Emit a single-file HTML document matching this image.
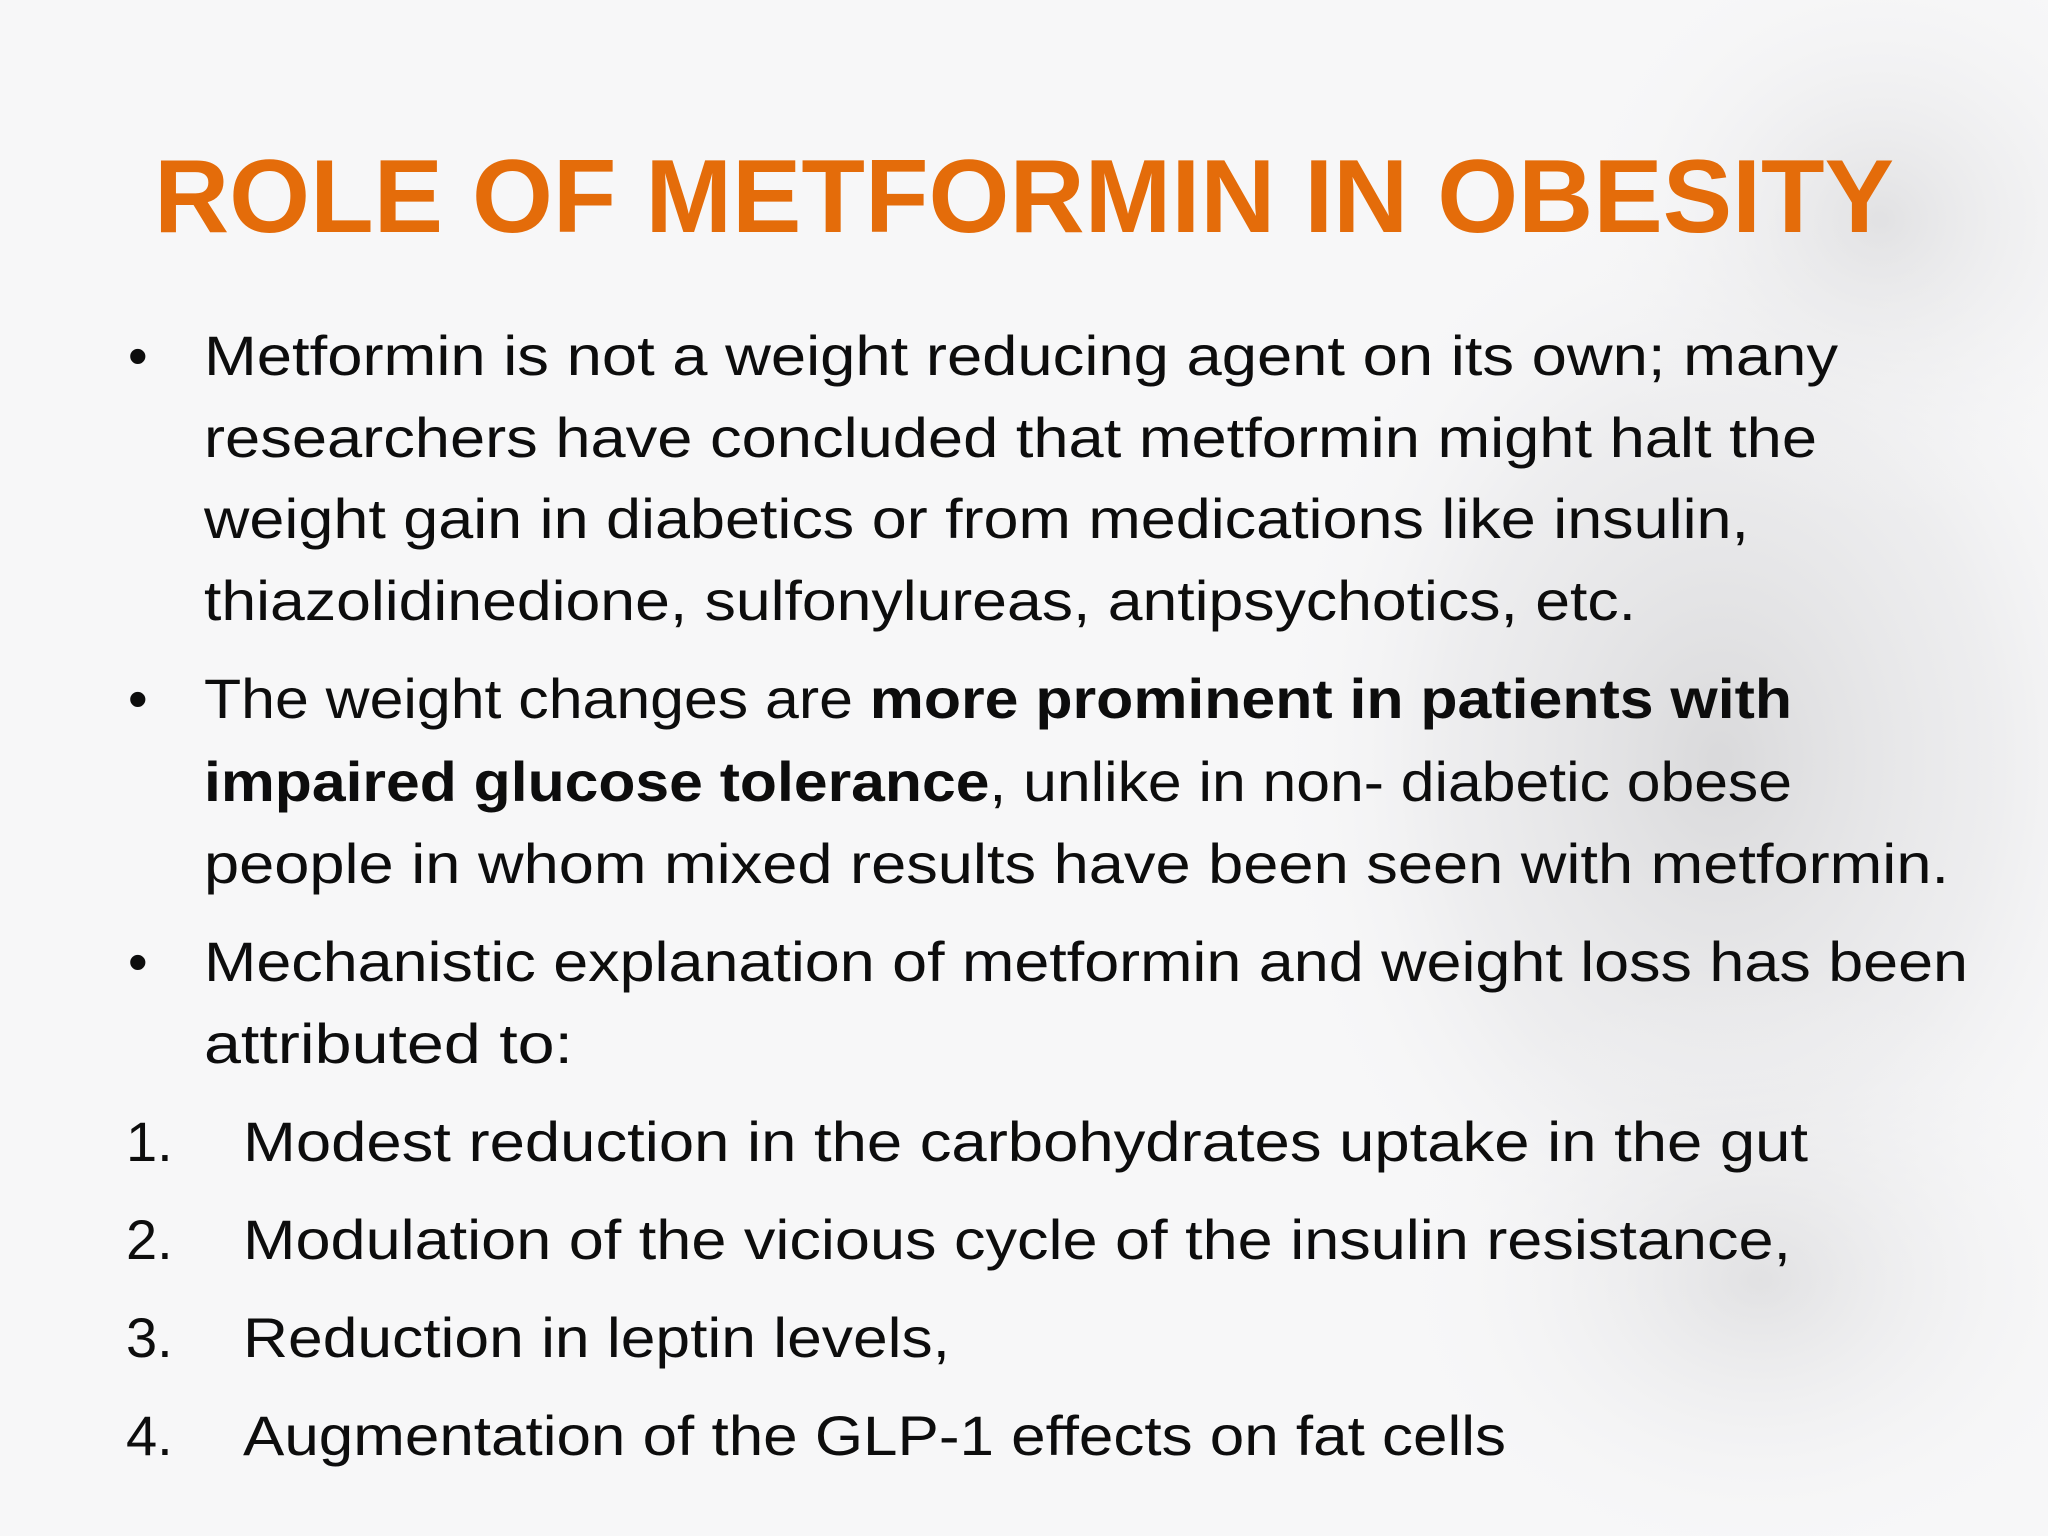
<!DOCTYPE html>
<html><head><meta charset="utf-8"><style>
html,body{margin:0;padding:0;width:2048px;height:1536px;overflow:hidden;background:#f7f7f8}
svg{display:block}
text{font-family:"Liberation Sans",sans-serif;fill:#0d0d0d;font-size:56px}
</style></head><body>
<svg width="2048" height="1536" viewBox="0 0 2048 1536">
<defs>
<radialGradient id="g1" cx="0.5" cy="0.5" r="0.5"><stop offset="0" stop-color="#d2d2d4" stop-opacity="0.8"/><stop offset="0.6" stop-color="#e4e4e6" stop-opacity="0.5"/><stop offset="1" stop-color="#f7f7f8" stop-opacity="0"/></radialGradient>
<radialGradient id="g2" cx="0.5" cy="0.5" r="0.5"><stop offset="0" stop-color="#dcdcde" stop-opacity="0.8"/><stop offset="1" stop-color="#f7f7f8" stop-opacity="0"/></radialGradient>
</defs>
<rect width="2048" height="1536" fill="#f7f7f8"/>
<ellipse cx="1720" cy="760" rx="460" ry="600" fill="url(#g1)"/>
<ellipse cx="1880" cy="220" rx="320" ry="300" fill="url(#g2)"/>
<ellipse cx="1760" cy="1280" rx="380" ry="300" fill="url(#g2)"/>
<text x="154" y="232" textLength="1740" lengthAdjust="spacingAndGlyphs" style="font-size:104px;font-weight:bold;fill:#e46c0a">ROLE OF METFORMIN IN OBESITY</text>

<g>
<text x="128" y="375">•</text>
<text x="204" y="375" textLength="1634" lengthAdjust="spacingAndGlyphs">Metformin is not a weight reducing agent on its own; many</text>
<text x="204" y="457" textLength="1613" lengthAdjust="spacingAndGlyphs">researchers have concluded that metformin might halt the</text>
<text x="204" y="538" textLength="1545" lengthAdjust="spacingAndGlyphs">weight gain in diabetics or from medications like insulin,</text>
<text x="204" y="620" textLength="1432" lengthAdjust="spacingAndGlyphs">thiazolidinedione, sulfonylureas, antipsychotics, etc.</text>

<text x="128" y="718">•</text>
<text x="204" y="718" textLength="1588" lengthAdjust="spacingAndGlyphs">The weight changes are <tspan font-weight="bold">more prominent in patients with</tspan></text>
<text x="204" y="801" textLength="1588" lengthAdjust="spacingAndGlyphs"><tspan font-weight="bold">impaired glucose tolerance</tspan>, unlike in non- diabetic obese</text>
<text x="204" y="883" textLength="1745" lengthAdjust="spacingAndGlyphs">people in whom mixed results have been seen with metformin.</text>

<text x="128" y="981">•</text>
<text x="204" y="981" textLength="1764" lengthAdjust="spacingAndGlyphs">Mechanistic explanation of metformin and weight loss has been</text>
<text x="204" y="1063" textLength="369" lengthAdjust="spacingAndGlyphs">attributed to:</text>
</g>

<g>
<text x="126" y="1161">1.</text>
<text x="243" y="1161" textLength="1565" lengthAdjust="spacingAndGlyphs">Modest reduction in the carbohydrates uptake in the gut</text>
<text x="126" y="1259">2.</text>
<text x="243" y="1259" textLength="1548" lengthAdjust="spacingAndGlyphs">Modulation of the vicious cycle of the insulin resistance,</text>
<text x="126" y="1357">3.</text>
<text x="243" y="1357" textLength="707" lengthAdjust="spacingAndGlyphs">Reduction in leptin levels,</text>
<text x="126" y="1455">4.</text>
<text x="243" y="1455" textLength="1263" lengthAdjust="spacingAndGlyphs">Augmentation of the GLP-1 effects on fat cells</text>
</g>
</svg>
</body></html>
